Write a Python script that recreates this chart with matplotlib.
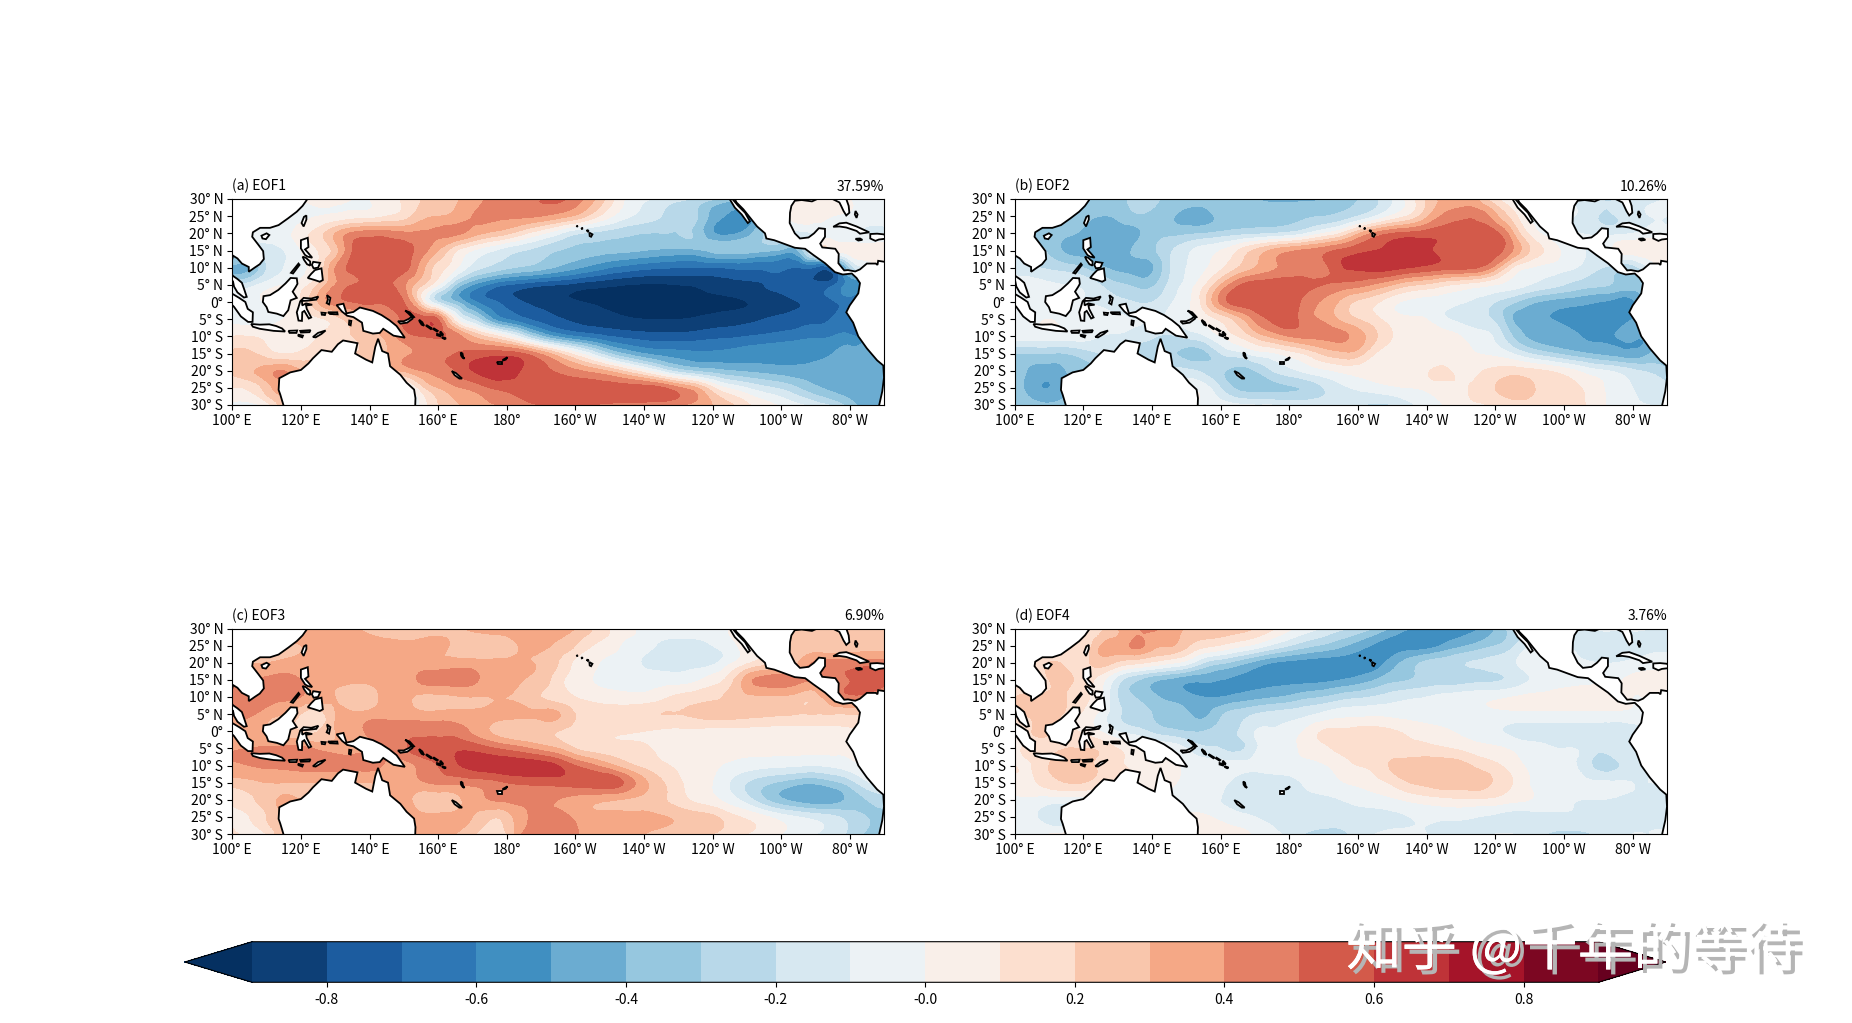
import matplotlib
matplotlib.use("Agg")
import matplotlib.pyplot as plt
import matplotlib.patheffects as path_effects
import matplotlib.tri as mtri
import numpy as np

plt.rcParams["font.family"] = ["Noto Sans CJK SC", "DejaVu Sans"]
plt.rcParams["axes.unicode_minus"] = False

# SST anomaly EOF loadings in hundredths, rows from 30N to 30S every 5 degrees,
# columns from 100E to 70W (100..290) every 5 degrees.
lon = list(range(100, 295, 5))
lat = list(range(30, -35, -5))

eof1 = [
 [0,0,0,0,0,5,5,0,0,5,12,20,25,28,35,42,45,48,50,52,45,32,15,-2,-8,-12,-17,-22,-28,-35,-30,-10,-2,2,5,5,0,0,0],
 [-10,-10,-5,-2,-2,0,2,5,6,10,15,26,30,33,40,42,42,42,40,35,28,15,2,-8,-14,-20,-25,-28,-44,-52,-55,-30,-5,5,5,0,-2,-5,-5],
 [-15,-10,-6,-3,5,15,30,42,45,45,42,42,42,42,35,28,22,12,2,-8,-18,-22,-25,-28,-30,-30,-30,-32,-48,-52,-45,-30,-22,-15,-10,-5,-8,-10,-10],
 [-25,-20,-15,-10,0,10,25,50,56,56,55,45,30,12,0,-8,-15,-20,-25,-30,-33,-35,-37,-38,-40,-42,-43,-42,-37,-35,-35,-38,-42,-40,0,5,5,5,8],
 [-42,-40,-20,-10,-2,10,40,52,56,56,54,35,15,2,-14,-22,-28,-32,-36,-42,-48,-54,-60,-64,-67,-69,-70,-70,-70,-69,-68,-68,-68,-70,-72,-70,-30,-10,0],
 [-20,-15,-5,0,5,20,40,50,52,52,42,22,0,-30,-50,-62,-70,-74,-78,-80,-83,-86,-88,-90,-91,-91,-90,-89,-86,-84,-82,-80,-79,-77,-76,-72,-58,-50,0],
 [0,-2,0,0,10,30,45,50,52,52,50,15,-20,-38,-57,-67,-74,-80,-84,-87,-89,-91,-93,-95,-96,-96,-95,-94,-93,-92,-90,-87,-84,-80,-77,-72,-65,-60,0],
 [-2,-3,-2,0,3,8,15,25,30,40,52,55,50,5,-20,-45,-60,-68,-74,-79,-82,-85,-87,-89,-90,-90,-90,-89,-87,-85,-83,-80,-77,-74,-72,-69,-65,-60,0],
 [10,10,7,5,7,10,15,20,25,33,45,50,52,45,30,17,3,-17,-38,-52,-60,-65,-70,-73,-75,-76,-76,-75,-73,-72,-70,-68,-66,-64,-62,-60,-58,-55,0],
 [22,22,15,10,12,15,18,20,22,30,38,42,47,50,53,55,55,50,38,22,5,-12,-30,-42,-50,-54,-56,-58,-58,-57,-55,-54,-53,-52,-52,-50,-48,-45,-40],
 [22,28,35,40,30,25,20,20,20,25,32,40,45,50,60,66,66,58,53,48,42,36,28,16,3,-12,-25,-32,-36,-40,-42,-44,-46,-47,-46,-45,-45,-44,-42],
 [10,12,25,35,30,25,20,20,20,20,-2,15,30,38,43,50,53,55,56,56,56,56,55,55,55,52,42,32,12,-2,-10,-17,-22,-30,-38,-43,-46,-46,-45],
 [-3,-3,5,25,20,15,10,5,2,0,-2,2,20,28,33,38,42,47,50,51,51,50,48,47,45,43,41,35,30,22,12,5,-2,-8,-15,-22,-35,-45,-42],
]

eof2 = [
 [-25,-25,-25,-30,-33,-35,-33,-28,-28,-33,-35,-36,-37,-38,-40,-43,-43,-42,-40,-33,-30,-22,-10,5,22,33,37,30,12,5,0,-5,-10,-15,-20,-20,-15,-12,-10],
 [-30,-30,-32,-35,-38,-40,-38,-32,-33,-38,-43,-43,-38,-35,-33,-33,-32,-31,-30,-27,-20,-10,2,12,28,42,47,47,33,15,0,-3,-8,-12,-20,-20,-15,-10,-10],
 [-25,-30,-35,-38,-42,-46,-46,-43,-35,-33,-32,-30,-27,-24,-22,-20,-17,-10,0,10,28,42,50,53,55,57,57,56,53,32,8,-3,-8,-10,-12,-12,-10,-5,-5],
 [-20,-25,-32,-42,-45,-47,-46,-38,-32,-22,-13,-5,0,10,22,32,38,42,46,52,57,60,63,66,62,57,55,54,53,40,20,8,-2,-8,-10,2,5,5,5],
 [-15,-18,-22,-25,-30,-38,-43,-45,-42,-22,-10,-2,8,20,30,38,43,45,47,58,62,64,63,60,57,54,53,50,35,10,0,-4,-7,-12,-18,-25,-25,-10,0],
 [-5,-5,-8,-10,-12,-20,-28,-32,-32,-18,-7,8,30,48,55,56,56,53,50,47,44,38,30,22,18,12,8,4,0,-5,-10,-15,-20,-25,-28,-32,-35,-35,-10],
 [0,-2,-5,-8,-10,-12,-17,-20,-20,-12,-3,15,42,55,57,57,56,46,38,28,18,12,3,-2,-4,-6,-9,-13,-20,-28,-37,-42,-45,-47,-50,-53,-52,-30,-10],
 [-5,-2,0,-2,-4,-6,-8,-10,-10,-10,-5,2,12,25,42,52,54,45,38,28,20,13,5,2,0,-8,-13,-18,-22,-40,-46,-49,-52,-56,-58,-57,-50,-30,-10],
 [-5,-5,-5,-5,-5,-10,-12,-15,-18,-22,-17,-12,0,10,22,32,40,43,43,43,35,22,10,5,4,3,0,-5,-12,-30,-42,-46,-48,-50,-51,-50,-48,-45,-20],
 [-30,-30,-30,-30,-25,-20,-20,-22,-24,-28,-33,-33,-20,-14,-6,-2,5,12,22,27,25,10,5,3,2,2,2,0,-3,-10,-20,-27,-33,-38,-42,-45,-47,-40,-35],
 [-35,-42,-45,-40,-35,-30,-25,-22,-20,-18,-18,-22,-28,-33,-30,-20,-13,-7,-2,2,4,5,5,5,8,13,5,8,13,15,13,10,5,-2,-8,-12,-18,-22,-28],
 [-35,-45,-50,-42,-35,-30,-25,-20,-15,-8,-2,-5,-20,-32,-34,-33,-31,-28,-20,-13,-8,-5,-2,0,2,5,8,14,20,26,22,17,14,10,3,-5,-10,-14,-18],
 [-30,-35,-38,-35,-30,-25,-20,-15,-10,-5,-2,-2,-5,-8,-10,-10,-12,-12,-14,-16,-18,-22,-20,-12,-5,0,5,8,12,14,15,16,16,12,3,-3,-8,-10,-10],
]

eof3 = [
 [30,30,30,30,30,33,33,33,25,20,20,23,25,28,32,35,35,35,35,33,30,20,10,2,-3,-5,-5,-5,-3,0,5,12,20,25,28,28,30,30,30],
 [30,30,30,30,30,33,34,35,34,33,32,32,32,28,24,24,26,32,32,28,20,10,5,-3,-6,-12,-14,-14,-10,-4,5,12,20,28,24,22,24,25,25],
 [30,30,30,32,33,35,36,35,34,33,33,33,33,34,34,33,33,32,28,20,8,2,-3,-6,-11,-14,-15,-14,-12,-2,8,15,20,30,42,44,44,45,45],
 [38,40,42,44,40,34,33,33,33,33,33,42,44,45,43,35,33,30,26,14,5,0,-3,-5,-5,-5,-5,-2,5,15,35,43,45,43,42,45,50,56,56],
 [42,42,43,42,40,35,30,20,25,33,33,28,28,29,30,30,30,27,20,15,10,6,4,3,3,7,12,15,18,22,27,28,28,25,25,40,47,45,35],
 [42,42,35,30,20,15,30,33,34,35,34,33,33,33,32,32,32,32,32,31,20,18,16,16,18,20,20,22,24,24,23,22,21,20,20,20,20,20,20],
 [30,35,30,25,20,20,30,35,43,46,47,47,47,46,38,30,24,22,22,20,15,13,12,11,10,8,7,7,6,6,6,5,5,5,6,7,8,10,10],
 [38,40,42,43,43,38,35,35,38,42,48,55,56,58,57,52,47,42,36,30,20,15,14,13,12,7,5,4,3,3,2,2,2,2,2,2,2,5,5],
 [38,40,42,43,45,45,44,43,43,38,36,43,50,58,63,65,66,66,65,60,50,42,33,24,17,12,8,5,2,-2,-5,-7,-8,-9,-10,-8,-4,2,5],
 [25,27,30,30,30,30,30,30,30,32,33,38,42,42,44,46,50,52,53,54,55,56,57,47,33,22,12,6,0,-10,-20,-27,-32,-37,-38,-33,-25,-12,-5],
 [12,18,25,32,30,30,30,30,30,30,32,26,24,27,35,40,42,43,43,40,36,33,31,29,27,22,15,8,3,-5,-15,-28,-38,-44,-47,-45,-37,-30,-25],
 [8,10,20,30,30,30,30,30,30,30,32,33,33,33,30,22,25,38,42,43,38,33,33,33,33,31,28,25,22,14,8,2,-5,-10,-14,-18,-24,-30,-32],
 [12,8,10,30,30,30,30,30,30,32,34,35,33,30,22,12,20,42,44,44,42,33,32,32,30,26,24,22,20,15,10,6,0,-5,-10,-15,-22,-32,-35],
]

eof4 = [
 [15,15,15,15,12,18,30,38,42,33,30,29,28,25,20,12,2,-5,-12,-18,-22,-32,-42,-50,-52,-53,-53,-50,-40,-25,-15,-10,-10,-10,-8,-8,-8,-10,-12],
 [10,12,13,13,12,30,34,42,34,31,22,13,9,3,-3,-12,-20,-27,-32,-38,-45,-52,-55,-55,-55,-48,-42,-36,-30,-22,-10,-8,-8,-14,-15,-15,-14,-12,-12],
 [10,13,20,17,14,25,18,13,8,2,-5,-20,-28,-35,-43,-50,-53,-55,-56,-56,-56,-55,-45,-35,-28,-25,-21,-19,-17,-12,-5,-3,-5,-8,-10,-10,-8,-6,-5],
 [15,15,20,22,15,5,-15,-28,-37,-42,-47,-48,-50,-52,-53,-54,-54,-54,-53,-50,-46,-40,-33,-30,-26,-25,-24,-22,-21,-17,-10,-7,-5,-3,-2,-1,2,5,5],
 [20,22,22,20,12,2,-20,-30,-37,-43,-47,-50,-50,-47,-44,-41,-38,-33,-30,-25,-22,-19,-15,-12,-10,-7,-5,-3,-2,0,2,3,5,5,5,5,0,2,5],
 [20,22,25,18,8,-3,-18,-25,-30,-33,-38,-42,-32,-25,-20,-17,-15,-12,-8,-4,-3,-2,-3,-4,-5,-5,-5,-4,-3,-3,-3,-3,-3,-3,-3,-3,-3,-5,-5],
 [8,20,20,15,8,0,-10,-15,-22,-27,-30,-30,-25,-20,-10,-8,-5,2,11,12,13,13,11,8,5,2,-2,-5,-8,-12,-13,-13,-13,-14,-14,-14,-13,-10,-10],
 [5,15,18,20,20,18,10,5,0,-3,-10,-18,-20,-23,-12,-6,-3,3,8,12,13,13,13,13,13,11,8,4,2,-2,-6,-8,-10,-12,-19,-15,-12,-8,-5],
 [10,10,20,22,22,18,12,8,4,2,-2,-6,-7,-8,-8,-7,-5,-3,-1,5,10,13,22,25,26,26,24,17,12,5,-2,-6,-8,-12,-24,-22,-15,-10,-5],
 [5,8,15,20,20,15,10,8,8,3,-3,-5,-8,-12,-13,-13,-13,-8,-5,-1,2,6,12,20,23,26,26,26,18,10,0,-5,-8,-8,-9,-9,-10,-10,-10],
 [-2,-3,-5,-5,-5,-5,-5,-5,-5,-5,-5,-8,-10,-14,-15,-15,-15,-13,-12,-10,-7,-5,-2,2,5,7,8,8,7,3,0,-5,-8,-10,-10,-11,-12,-13,-15],
 [-5,-8,-15,-20,-15,-10,-8,-5,0,2,2,2,-3,-7,-10,-13,-15,-15,-15,-15,-14,-13,-12,-10,-8,-8,-8,-10,-12,-15,-15,-13,-12,-12,-12,-12,-12,-12,-12],
 [-2,-2,0,2,2,2,2,2,2,3,3,5,5,5,-2,-8,-12,-21,-23,-23,-15,-10,-8,-8,-10,-13,-21,-13,-10,-10,-14,-20,-22,-22,-18,-12,-10,-10,-10],
]

panel_fields = [eof1, eof2, eof3, eof4]
panel_titles = ["(a) EOF1", "(b) EOF2", "(c) EOF3", "(d) EOF4"]
panel_variance = ["37.59%", "10.26%", "6.90%", "3.76%"]

contour_levels = [round(-0.9 + 0.1 * i, 1) for i in range(19)]
colorbar_ticks = [-0.8, -0.6, -0.4, -0.2, 0.0, 0.2, 0.4, 0.6, 0.8]
colorbar_labels = ["-0.8", "-0.6", "-0.4", "-0.2", "-0.0", "0.2", "0.4", "0.6", "0.8"]

lon_ticks = [100, 120, 140, 160, 180, 200, 220, 240, 260, 280]
lon_labels = ["100° E", "120° E", "140° E", "160° E", "180°", "160° W", "140° W", "120° W", "100° W", "80° W"]
lat_ticks = list(range(30, -35, -5))
lat_labels = ["30° N", "25° N", "20° N", "15° N", "10° N", "5° N", "0°", "5° S", "10° S", "15° S", "20° S", "25° S", "30° S"]

# Coastlines as (longitude east, latitude) outlines
asia = [(95,31),(121.7,31),(121.7,29.7),(120.5,28),(118.8,26.3),(116.3,24.4),(113.5,22.4),(111,21.6),(108.1,21.6),(106,20.3),(105.8,19),(107.5,16.8),(109,14.8),(109.2,12.5),(108,11),(106.5,10),(104.8,8.8),(104.8,10.2),(102.8,11.2),(101.5,12.7),(100.2,13.5),(100,12.5),(99.5,11),(95,11)]
malaya = [(95,9),(99.3,9),(100.2,7.6),(101.5,6.7),(102.8,5.6),(103.5,3.6),(104.2,1.5),(103.4,1.3),(101.5,2.8),(100.5,4.5),(100.2,6),(95,7)]
sumatra = [(95,5),(97,5),(100,2.4),(102,1.2),(103.8,0),(104.5,-2),(106,-3),(105.9,-5.8),(104.6,-5.8),(102.5,-4.2),(100.5,-1.4),(98,1),(95,4)]
java = [(105.5,-6.4),(108,-6.6),(110.8,-6.5),(112.8,-7),(114.5,-7.7),(115.4,-8.6),(112,-8.4),(108,-7.8),(106,-7.2)]
borneo = [(118.8,6.9),(117,7),(115.5,5.4),(113.4,3.5),(111,2),(109.1,1.7),(108.9,0),(110,-1.5),(110.5,-2.9),(113,-3.4),(114.9,-4.1),(116.3,-2.4),(117,0.5),(118.8,1.2),(117.6,3),(118.5,4.4),(119,5.3)]
sulawesi = [(125.1,1.6),(123,1.0),(120.8,1.2),(119.8,0.2),(119.3,-1.5),(118.8,-3),(119.3,-5.4),(120.3,-5.5),(120.4,-3),(121,-2.6),(122.3,-4.8),(123,-4.5),(121.7,-2),(121.5,-1),(123.3,-0.8),(121.5,-0.4),(120.4,-1),(120.3,0.3),(122,0.4),(124.5,0.7)]
new_guinea = [(130.4,-0.9),(132.4,-0.5),(133.3,-3.3),(135.3,-2.9),(137.2,-1.6),(141,-2.6),(143.5,-3.8),(145.8,-5.3),(147.9,-7),(150.3,-10.4),(147,-9.8),(144,-7.8),(143,-9),(141,-9.2),(138.2,-8.4),(137.8,-6),(135.3,-4.4),(133.5,-4),(132,-2.8)]
australia = [(114.9,-31),(114.9,-30),(114,-27),(113.5,-25.6),(113.7,-22.2),(116.9,-20.5),(120,-19.8),(122.2,-17.9),(123.5,-16.4),(126,-14),(129,-14.5),(130.8,-12.3),(132.3,-11.2),(136.5,-12),(135.8,-15),(139,-16.8),(140.8,-17.6),(141.7,-13),(142.5,-10.7),(143.7,-14.3),(145.4,-15),(146,-18.7),(149,-21.2),(150.8,-23.5),(153,-25.5),(153.4,-28),(153.3,-31)]
americas = [(246,31),(247,29),(249,27),(251,24.5),(253,22),(255.3,20),(255.7,18.5),(258,18),(261,16.9),(264,15.8),(267,15.5),(269.4,13.7),(272.8,11.3),(275.7,8.7),(278,8),(280.6,8.3),(282,7),(283,5.5),(282.5,2.5),(280,-1),(279,-3),(281,-6),(282.5,-10),(285,-13.5),(288,-17),(289.8,-18.5),(290,-22),(289.5,-26),(288.6,-30),(288.4,-31),(296,-31),(296,11),(291,11),(290.2,11.7),(288.3,12),(288.1,10.8),(287.6,11.2),(285,11.2),(283,9.5),(281.6,8.9),(279.5,9.3),(278.4,9.2),(276.7,11.3),(276.8,14),(275.8,15.5),(272,15.9),(271.4,17),(272.8,19),(272.8,21.3),(271,21.5),(269.6,20),(268,18.8),(265.5,18.5),(264,20),(262.5,23),(262.6,26),(263,28),(264,29.5),(266,29.7),(269,29.3),(271,30.2),(275,30),(277,29),(277.5,28),(278.2,26.5),(279,25.2),(279.9,26),(279.7,28),(279,30),(279,31)]
baja = [(244.8,31),(245,30),(246.5,27.5),(248.5,25.5),(250.3,23),(250.9,23.5),(249.5,26),(247.5,28),(245.8,30),(245.5,31)]
taiwan = [(120.2,23),(120.8,22),(121.6,24),(121.6,25.2),(120.9,24.8)]
hainan = [(108.5,19.3),(110,20),(110.8,19.5),(109.8,18.3),(108.8,18.5)]
luzon = [(120,18),(122,18.7),(122.2,16),(121.2,15.3),(122.2,14.2),(123.3,12.9),(122,13.2),(121.2,13.7),(120,15.6)]
visayas = [(123.6,11.7),(125.6,11.4),(125,10),(123.7,9.8),(123.2,10.8)]
mindoro = [(120.5,13.2),(121.4,12.9),(122.7,11.8),(122.7,10.6),(121.8,11),(120.9,12.3)]
palawan = [(117.1,8.5),(119.3,11.2),(119.6,10.8),(117.7,8.3)]
mindanao = [(124.1,9.3),(126,9.8),(126.4,6.4),(125.5,5.9),(124,6.4),(122,7),(123,8.2)]
halmahera = [(127.6,2),(128.6,1.2),(128.2,-0.7),(127.5,-0.3),(127.9,0.7)]
buru = [(126,-3.1),(127.2,-3.2),(127,-3.8),(126.1,-3.7)]
seram = [(127.9,-3),(130.6,-3),(130.7,-3.6),(128.5,-3.5)]
flores = [(119.8,-8.4),(122.8,-8.2),(122.5,-8.8),(120,-8.9)]
sumbawa = [(116.4,-8.4),(118.9,-8.3),(118.7,-9),(116.7,-9)]
sumba = [(119.2,-9.5),(120.6,-9.8),(120.4,-10.3),(119.3,-9.9)]
timor = [(123.5,-10.2),(125,-9),(127.2,-8.3),(126,-9.3),(124.3,-10.3)]
aru = [(134.1,-5.4),(134.7,-5.5),(134.5,-6.8),(134,-6.6)]
new_ireland = [(150.4,-2.5),(151.7,-3),(153,-4.4),(152.6,-4.6),(151.4,-3.4)]
new_britain = [(148.3,-5.6),(150,-5.6),(151.5,-4.9),(152.4,-4.2),(152.5,-4.9),(151,-6),(149,-6.3)]
bougainville = [(154.5,-5.2),(155.4,-5.9),(155.9,-6.9),(155.2,-6.6),(154.6,-5.7)]
choiseul = [(156.6,-6.7),(158.2,-7.7),(157.9,-7.9),(156.6,-7)]
santa_isabel = [(158.8,-7.7),(159.9,-8.4),(159.7,-8.6),(158.6,-7.9)]
guadalcanal = [(159.7,-9.3),(160.8,-9.6),(160.7,-10),(159.7,-9.7)]
malaita = [(160.7,-8.6),(161.4,-9.4),(161.3,-9.8),(160.6,-9)]
makira = [(161.2,-10.2),(162.3,-10.6),(161.9,-10.8),(161.3,-10.5)]
vanuatu = [(166.6,-14.7),(167.1,-15),(167.3,-16),(167.7,-16.5),(167.2,-16.3),(166.7,-15.6)]
new_caledonia = [(164,-20.1),(165.2,-20.7),(167,-22.3),(166.2,-22.3),(164.8,-21.3)]
fiji_main = [(177.3,-17.5),(178.5,-17.5),(178.5,-18.2),(177.4,-18.2)]
fiji_north = [(178.8,-16.9),(180.2,-16.1),(179.7,-16.8),(179,-17)]
hawaii = [(204.1,20.2),(205,19.7),(204.6,19),(204.2,19.2)]
maui = [(203.3,20.9),(203.9,20.8),(203.7,20.5)]
oahu = [(201.8,21.6),(202.2,21.4),(201.9,21.3)]
kauai = [(200.4,22.2),(200.7,22.1),(200.5,21.9)]
cuba = [(275.2,21.9),(277,22.9),(279,23.1),(282,22),(285.7,20.3),(283,19.9),(282,20.7),(279,21.7),(277,22)]
jamaica = [(281.7,18.4),(283,18.5),(283.7,18.1),(282.5,17.9)]
hispaniola = [(286,19.8),(288,19.9),(290,19.7),(291,18.5),(288.5,18.2),(287.5,17.8),(286,18.5)]
andros = [(281.7,26.5),(282.3,25.5),(282,24.5),(281.5,25.5)]

coast_outlines = [
    asia, malaya, sumatra, java, borneo, sulawesi, new_guinea, australia, americas, baja,
    taiwan, hainan, luzon, visayas, mindoro, palawan, mindanao, halmahera, buru, seram,
    flores, sumbawa, sumba, timor, aru, new_ireland, new_britain, bougainville, choiseul,
    santa_isabel, guadalcanal, malaita, makira, vanuatu, new_caledonia, fiji_main, fiji_north,
    hawaii, maui, oahu, kauai, cuba, jamaica, hispaniola, andros,
]

W, H = 1852, 1023
fig = plt.figure(figsize=(W / 100, H / 100), dpi=100)

# Panel frames in pixels: left, top, right, bottom
panel_boxes = [
    (232.3, 199, 884, 405),
    (1014.6, 199, 1667, 405),
    (232.3, 628.5, 884, 834),
    (1014.6, 628.5, 1667, 834),
]

lon_grid, lat_grid = np.meshgrid(lon, lat)
triangles = mtri.Triangulation(lon_grid.ravel(), lat_grid.ravel())
refiner = mtri.UniformTriRefiner(triangles)

for box, field, title, variance in zip(panel_boxes, panel_fields, panel_titles, panel_variance):
    left, top, right, bottom = box
    ax = fig.add_axes([left / W, 1 - bottom / H, (right - left) / W, (bottom - top) / H])
    values = np.array(field, dtype=float).ravel() / 100.0
    # Contours are traced on a refined mesh so the bands have smooth edges
    fine_mesh, fine_values = refiner.refine_field(values, subdiv=3)
    filled = ax.tricontourf(fine_mesh, fine_values, levels=contour_levels,
                            cmap="RdBu_r", extend="both")
    # Land sits under the frame so the spines stay visible along the coast
    for outline in coast_outlines:
        xs, ys = zip(*outline)
        ax.fill(xs, ys, facecolor="white", edgecolor="black", linewidth=1.3, zorder=2)
    ax.set_xlim(100, 290)
    ax.set_ylim(-30, 30)
    ax.set_xticks(lon_ticks)
    ax.set_xticklabels(lon_labels)
    ax.set_yticks(lat_ticks)
    ax.set_yticklabels(lat_labels)
    ax.tick_params(labelsize=10, length=3.5, width=0.8, pad=3)
    ax.set_title(title, loc="left", fontsize=10, pad=6)
    ax.set_title(variance, loc="right", fontsize=10, pad=6)

cax = fig.add_axes([184.8 / W, 1 - 982.3 / H, 1480.8 / W, 40.6 / H])
bar = fig.colorbar(filled, cax=cax, orientation="horizontal", extendfrac=0.05, drawedges=False)
bar.set_ticks(colorbar_ticks)
bar.set_ticklabels(colorbar_labels)
bar.ax.tick_params(labelsize=10, length=3.5, width=0.8, pad=4)
bar.minorticks_off()

# Site signature, white over a grey drop shadow
fig.text(1346 / W, 1 - 965 / H, "知乎 @千年的等待", fontsize=40, color="white", fontweight="medium",
         ha="left", va="baseline",
         path_effects=[path_effects.withSimplePatchShadow(offset=(3.6, -3.6), shadow_rgbFace="#b5b5b5", alpha=1.0),
                       path_effects.Normal()])

fig.savefig("out.png", dpi=100)
